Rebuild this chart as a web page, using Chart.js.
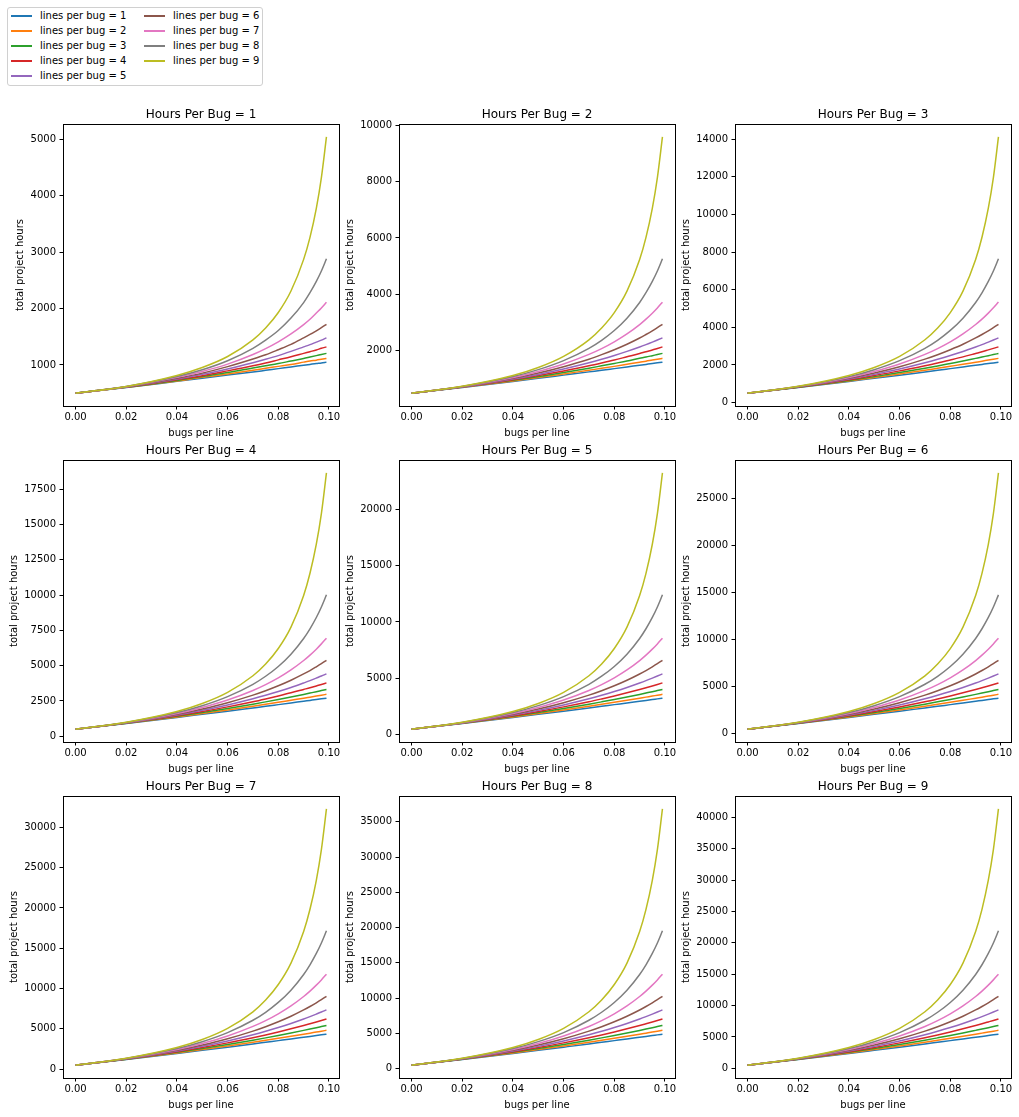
<!DOCTYPE html>
<html>
<head>
<meta charset="utf-8">
<script src="https://cdn.jsdelivr.net/npm/chart.js@4.4.0/dist/chart.umd.min.js"></script>
<style>
  body { margin: 0; background: #fff; width: 1019px; height: 1117px; position: relative; overflow: hidden; font-family: 'DejaVu Sans', sans-serif; }
  canvas { position: absolute; }
  .legend { position: absolute; left: 7px; top: 7px; width: 254px; height: 77px; border: 1px solid #d0d0d0; border-radius: 3px; background: #fff; }
  .item { position: absolute; height: 15px; line-height: 15px; font-size: 10px; color: #000; white-space: nowrap; }
  .item i { position: absolute; left: 0; top: 7px; width: 21px; height: 2px; }
  .item span { position: absolute; left: 29px; top: 0; }
</style>
</head>
<body>
<div class="legend" id="legend"></div>
<script>
const xs = [0, 0.02, 0.04, 0.05, 0.06, 0.07, 0.075, 0.08, 0.085, 0.09, 0.0925, 0.095, 0.097, 0.099];
const xTicks = [0, 0.02, 0.04, 0.06, 0.08, 0.10];

const hoursPerBug = [1, 2, 3, 4, 5, 6, 7, 8, 9];
const linesPerBug = [1, 2, 3, 4, 5, 6, 7, 8, 9];
const colors = ['#1f77b4', '#ff7f0e', '#2ca02c', '#d62728', '#9467bd', '#8c564b', '#e377c2', '#7f7f7f', '#bcbd22'];

// total project hours, one row per "lines per bug" value
const hpb1 = [
  [500, 600, 710, 765, 820, 875, 905, 935, 965, 995, 1010, 1025, 1035, 1050],
  [500, 605, 715, 780, 840, 905, 940, 975, 1010, 1050, 1070, 1085, 1100, 1115],
  [500, 605, 725, 795, 865, 945, 985, 1025, 1070, 1115, 1140, 1165, 1185, 1205],
  [500, 610, 740, 810, 895, 985, 1035, 1090, 1145, 1205, 1235, 1265, 1295, 1320],
  [500, 610, 750, 835, 930, 1040, 1100, 1165, 1240, 1320, 1360, 1405, 1440, 1480],
  [500, 615, 765, 855, 970, 1105, 1180, 1270, 1365, 1480, 1540, 1605, 1660, 1720],
  [500, 615, 780, 885, 1015, 1185, 1290, 1410, 1550, 1715, 1810, 1920, 2010, 2110],
  [500, 620, 795, 915, 1075, 1295, 1440, 1610, 1830, 2105, 2280, 2480, 2665, 2880],
  [500, 620, 815, 955, 1150, 1445, 1655, 1930, 2310, 2870, 3260, 3775, 4320, 5040]
];
const hpb2 = [
  [500, 705, 915, 1025, 1140, 1255, 1310, 1370, 1430, 1490, 1520, 1550, 1575, 1600],
  [500, 710, 935, 1055, 1180, 1315, 1380, 1450, 1525, 1600, 1635, 1675, 1705, 1735],
  [500, 715, 955, 1090, 1230, 1385, 1470, 1555, 1640, 1735, 1780, 1830, 1870, 1910],
  [500, 715, 975, 1125, 1290, 1470, 1570, 1675, 1790, 1905, 1970, 2030, 2085, 2140],
  [500, 720, 1000, 1165, 1355, 1575, 1700, 1835, 1980, 2135, 2220, 2310, 2385, 2460],
  [500, 725, 1025, 1215, 1440, 1705, 1865, 2040, 2235, 2455, 2580, 2710, 2820, 2940],
  [500, 735, 1055, 1270, 1535, 1875, 2080, 2320, 2600, 2930, 3125, 3335, 3520, 3725],
  [500, 740, 1090, 1335, 1655, 2090, 2375, 2720, 3155, 3715, 4060, 4460, 4830, 5260],
  [500, 745, 1125, 1410, 1805, 2390, 2810, 3355, 4115, 5235, 6020, 7050, 8140, 9580]
];
const hpb3 = [
  [500, 805, 1125, 1290, 1455, 1630, 1715, 1805, 1895, 1985, 2030, 2075, 2110, 2150],
  [500, 815, 1150, 1335, 1525, 1720, 1825, 1930, 2035, 2145, 2200, 2260, 2305, 2350],
  [500, 820, 1180, 1380, 1600, 1830, 1950, 2080, 2210, 2350, 2420, 2495, 2550, 2610],
  [500, 825, 1215, 1440, 1685, 1960, 2105, 2265, 2430, 2610, 2700, 2800, 2880, 2960],
  [500, 835, 1250, 1500, 1785, 2115, 2300, 2500, 2715, 2955, 3080, 3215, 3325, 3440],
  [500, 840, 1290, 1570, 1905, 2310, 2545, 2810, 3100, 3435, 3620, 3815, 3980, 4160],
  [500, 850, 1335, 1655, 2050, 2560, 2870, 3225, 3650, 4150, 4435, 4755, 5035, 5340],
  [500, 855, 1380, 1750, 2230, 2885, 3310, 3835, 4485, 5320, 5835, 6440, 6995, 7640],
  [500, 865, 1440, 1865, 2455, 3340, 3960, 4785, 5925, 7605, 8785, 10330, 11955, 14120]
];
const hpb4 = [
  [500, 910, 1335, 1555, 1775, 2005, 2120, 2240, 2360, 2480, 2540, 2600, 2650, 2700],
  [500, 915, 1370, 1610, 1865, 2130, 2265, 2405, 2550, 2695, 2770, 2845, 2905, 2970],
  [500, 925, 1410, 1675, 1965, 2270, 2435, 2605, 2780, 2965, 3060, 3155, 3235, 3315],
  [500, 935, 1450, 1750, 2080, 2445, 2645, 2855, 3075, 3315, 3435, 3565, 3670, 3780],
  [500, 945, 1500, 1835, 2215, 2655, 2900, 3165, 3455, 3775, 3940, 4120, 4265, 4420],
  [500, 955, 1555, 1930, 2375, 2915, 3225, 3575, 3970, 4415, 4655, 4920, 5140, 5375],
  [500, 965, 1610, 2040, 2570, 3245, 3660, 4135, 4700, 5365, 5750, 6170, 6545, 6950],
  [500, 975, 1675, 2165, 2810, 3680, 4250, 4945, 5815, 6930, 7615, 8415, 9160, 10020],
  [500, 990, 1750, 2320, 3110, 4285, 5115, 6215, 7735, 9975, 11545, 13605, 15775, 18665]
];
const hpb5 = [
  [500, 1010, 1540, 1815, 2095, 2380, 2525, 2675, 2820, 2975, 3050, 3125, 3185, 3245],
  [500, 1020, 1585, 1890, 2205, 2535, 2705, 2880, 3060, 3245, 3340, 3430, 3510, 3585],
  [500, 1030, 1635, 1970, 2330, 2715, 2920, 3130, 3350, 3580, 3700, 3820, 3920, 4020],
  [500, 1045, 1690, 2065, 2475, 2930, 3180, 3440, 3720, 4015, 4170, 4330, 4465, 4600],
  [500, 1055, 1750, 2165, 2645, 3190, 3500, 3835, 4195, 4590, 4800, 5025, 5210, 5400],
  [500, 1070, 1815, 2285, 2845, 3515, 3910, 4345, 4835, 5390, 5695, 6025, 6300, 6595],
  [500, 1080, 1890, 2425, 3085, 3930, 4450, 5045, 5745, 6580, 7060, 7590, 8055, 8560],
  [500, 1095, 1970, 2585, 3385, 4475, 5190, 6055, 7140, 8535, 9395, 10395, 11325, 12400],
  [500, 1110, 2060, 2775, 3760, 5230, 6270, 7645, 9540, 12340, 14305, 16880, 19595, 23205]
];
const hpb6 = [
  [500, 1110, 1750, 2080, 2415, 2760, 2930, 3110, 3285, 3465, 3560, 3650, 3725, 3795],
  [500, 1125, 1805, 2165, 2545, 2940, 3145, 3355, 3570, 3795, 3905, 4020, 4110, 4205],
  [500, 1140, 1865, 2265, 2695, 3160, 3405, 3660, 3925, 4200, 4340, 4485, 4605, 4725],
  [500, 1150, 1930, 2375, 2870, 3415, 3715, 4030, 4365, 4720, 4905, 5095, 5255, 5415],
  [500, 1165, 2000, 2500, 3070, 3730, 4100, 4500, 4935, 5410, 5665, 5930, 6150, 6380],
  [500, 1180, 2080, 2645, 3315, 4120, 4590, 5115, 5705, 6370, 6735, 7130, 7460, 7815],
  [500, 1200, 2165, 2810, 3605, 4620, 5235, 5955, 6795, 7795, 8375, 9005, 9565, 10175],
  [500, 1215, 2265, 3000, 3960, 5275, 6125, 7165, 8470, 10145, 11175, 12375, 13490, 14780],
  [500, 1230, 2375, 3225, 4415, 6175, 7425, 9070, 11350, 14710, 17065, 20155, 23415, 27750]
];
const hpb7 = [
  [500, 1215, 1960, 2340, 2735, 3135, 3340, 3545, 3750, 3960, 4065, 4175, 4260, 4345],
  [500, 1230, 2020, 2445, 2885, 3350, 3590, 3835, 4085, 4340, 4470, 4605, 4710, 4820],
  [500, 1245, 2090, 2560, 3060, 3600, 3885, 4185, 4495, 4815, 4980, 5150, 5290, 5430],
  [500, 1260, 2165, 2690, 3265, 3905, 4250, 4620, 5010, 5420, 5640, 5865, 6050, 6235],
  [500, 1280, 2250, 2835, 3500, 4270, 4700, 5165, 5675, 6225, 6525, 6835, 7090, 7360],
  [500, 1295, 2340, 3000, 3780, 4725, 5275, 5885, 6570, 7350, 7775, 8235, 8620, 9035],
  [500, 1315, 2445, 3190, 4120, 5305, 6025, 6865, 7845, 9015, 9685, 10425, 11075, 11785],
  [500, 1335, 2560, 3415, 4540, 6070, 7060, 8280, 9795, 11750, 12950, 14355, 15655, 17160],
  [500, 1355, 2690, 3680, 5065, 7120, 8575, 10500, 13160, 17080, 19830, 23430, 27230, 32290]
];
const hpb8 = [
  [500, 1315, 2165, 2605, 3055, 3510, 3745, 3980, 4215, 4455, 4575, 4700, 4795, 4895],
  [500, 1335, 2240, 2720, 3225, 3755, 4030, 4310, 4595, 4890, 5040, 5190, 5315, 5440],
  [500, 1350, 2320, 2855, 3425, 4045, 4370, 4710, 5065, 5430, 5620, 5815, 5975, 6135],
  [500, 1370, 2405, 3000, 3660, 4390, 4785, 5205, 5650, 6125, 6375, 6630, 6840, 7055],
  [500, 1390, 2500, 3165, 3930, 4810, 5300, 5835, 6415, 7045, 7385, 7740, 8035, 8340],
  [500, 1410, 2605, 3355, 4250, 5330, 5955, 6655, 7440, 8325, 8815, 9335, 9780, 10255],
  [500, 1430, 2720, 3575, 4640, 5990, 6815, 7775, 8895, 10230, 11000, 11845, 12585, 13400],
  [500, 1450, 2855, 3835, 5115, 6865, 8000, 9390, 11125, 13355, 14730, 16335, 17820, 19540],
  [500, 1475, 3000, 4135, 5715, 8070, 9730, 11930, 14970, 19445, 22590, 26705, 31050, 36830]
];
const hpb9 = [
  [500, 1420, 2375, 2870, 3370, 3885, 4150, 4415, 4680, 4950, 5085, 5225, 5335, 5445],
  [500, 1440, 2455, 3000, 3570, 4165, 4470, 4785, 5110, 5440, 5610, 5780, 5915, 6055],
  [500, 1455, 2545, 3145, 3795, 4485, 4855, 5235, 5635, 6050, 6260, 6480, 6655, 6835],
  [500, 1480, 2645, 3315, 4055, 4875, 5320, 5795, 6295, 6830, 7105, 7395, 7630, 7875],
  [500, 1500, 2750, 3500, 4355, 5345, 5900, 6500, 7150, 7865, 8245, 8645, 8975, 9320],
  [500, 1525, 2870, 3715, 4720, 5930, 6635, 7425, 8305, 9305, 9855, 10440, 10945, 11475],
  [500, 1545, 3000, 3960, 5155, 6675, 7605, 8680, 9945, 11445, 12310, 13260, 14100, 15010],
  [500, 1570, 3145, 4250, 5690, 7660, 8940, 10500, 12455, 14965, 16510, 18315, 19985, 21920],
  [500, 1600, 3315, 4590, 6370, 9015, 10885, 13355, 16775, 21815, 25350, 29985, 34870, 41370]
];
const allPanels = [hpb1, hpb2, hpb3, hpb4, hpb5, hpb6, hpb7, hpb8, hpb9];

// y tick labels and axis limits per panel
const yTicks1 = [1000, 2000, 3000, 4000, 5000];
const yTicks2 = [2000, 4000, 6000, 8000, 10000];
const yTicks3 = [0, 2000, 4000, 6000, 8000, 10000, 12000, 14000];
const yTicks4 = [0, 2500, 5000, 7500, 10000, 12500, 15000, 17500];
const yTicks5 = [0, 5000, 10000, 15000, 20000];
const yTicks6 = [0, 5000, 10000, 15000, 20000, 25000];
const yTicks7 = [0, 5000, 10000, 15000, 20000, 25000, 30000];
const yTicks8 = [0, 5000, 10000, 15000, 20000, 25000, 30000, 35000];
const yTicks9 = [0, 5000, 10000, 15000, 20000, 25000, 30000, 35000, 40000];
const allYTicks = [yTicks1, yTicks2, yTicks3, yTicks4, yTicks5, yTicks6, yTicks7, yTicks8, yTicks9];
const yMin = [273, 46, -181, -408, -635, -862, -1090, -1316, -1543];
const yMax = [5268, 10037, 14805, 19573, 24342, 29112, 33880, 38647, 43413];

Chart.defaults.font.family = "'DejaVu Sans', sans-serif";
Chart.defaults.color = '#000';

// legend (figure level, top left)
const legend = document.getElementById('legend');
linesPerBug.forEach((n, k) => {
  const item = document.createElement('div');
  item.className = 'item';
  item.style.left = (k < 5 ? 3 : 136) + 'px';
  item.style.top = (15 * (k % 5)) + 'px';
  item.innerHTML = '<i style="background:' + colors[k] + '"></i><span>lines per bug = ' + n + '</span>';
  legend.appendChild(item);
});

// full box around each axes
const frame = {
  id: 'frame',
  afterDatasetsDraw(chart) {
    const { ctx, chartArea: a } = chart;
    ctx.save();
    ctx.strokeStyle = '#000';
    ctx.lineWidth = 1;
    ctx.strokeRect(Math.round(a.left) + 0.5, Math.round(a.top) + 0.5, Math.round(a.right - a.left), Math.round(a.bottom - a.top));
    ctx.restore();
  }
};

const measure = document.createElement('canvas').getContext('2d');
measure.font = "10px 'DejaVu Sans'";

const axW = 276, axH = 282, titleH = 18, xH = 33, padR = 16;

allPanels.forEach((panel, i) => {
  const col = i % 3, row = Math.floor(i / 3);
  const axLeft = 63 + 336 * col, axTop = 124 + 336 * row;
  const yt = allYTicks[i];
  const labW = Math.max(...yt.map(v => measure.measureText(String(v)).width));
  const yW = Math.ceil(3.5 + 3.5 + labW + 4 + 12);

  const cv = document.createElement('canvas');
  const cw = yW + axW + padR, ch = titleH + axH + xH;
  cv.width = cw; cv.height = ch;
  cv.style.width = cw + 'px'; cv.style.height = ch + 'px';
  cv.style.left = (axLeft - yW) + 'px';
  cv.style.top = (axTop - titleH) + 'px';
  document.body.appendChild(cv);

  new Chart(cv, {
    type: 'line',
    data: {
      datasets: panel.map((vals, k) => ({
        label: 'lines per bug = ' + linesPerBug[k],
        data: xs.map((x, j) => ({ x: x, y: vals[j] })),
        borderColor: colors[k],
        backgroundColor: colors[k],
        borderWidth: 1.5,
        pointRadius: 0,
        fill: false,
        cubicInterpolationMode: 'monotone',
        order: 9 - k
      }))
    },
    options: {
      responsive: false,
      animation: false,
      layout: { padding: { left: 0, top: 0, right: padR, bottom: 0 } },
      plugins: {
        legend: { display: false },
        tooltip: { enabled: false },
        title: {
          display: true,
          fullSize: false,
          text: 'Hours Per Bug = ' + hoursPerBug[i],
          font: { size: 12, weight: 'normal' },
          color: '#000',
          padding: { top: 2, bottom: 1.6 }
        }
      },
      scales: {
        x: {
          type: 'linear',
          min: -0.00495,
          max: 0.10395,
          afterBuildTicks: s => { s.ticks = xTicks.map(v => ({ value: v })); },
          afterFit: s => { s.height = xH; },
          ticks: { callback: v => v.toFixed(2), font: { size: 10 }, padding: 2, maxRotation: 0, autoSkip: false, color: '#000' },
          grid: { drawOnChartArea: false, drawTicks: true, tickLength: 3.5, color: '#000', lineWidth: 1 },
          border: { display: false },
          title: { display: true, text: 'bugs per line', font: { size: 10 }, padding: 0, color: '#000' }
        },
        y: {
          type: 'linear',
          min: yMin[i],
          max: yMax[i],
          afterBuildTicks: s => { s.ticks = yt.map(v => ({ value: v })); },
          afterFit: s => { s.width = yW; },
          ticks: { callback: v => String(v), font: { size: 10 }, padding: 3.5, autoSkip: false, color: '#000' },
          grid: { drawOnChartArea: false, drawTicks: true, tickLength: 3.5, color: '#000', lineWidth: 1 },
          border: { display: false },
          title: { display: true, text: 'total project hours', font: { size: 10 }, padding: 0, color: '#000' }
        }
      }
    },
    plugins: [frame]
  });
});
</script>
</body>
</html>
